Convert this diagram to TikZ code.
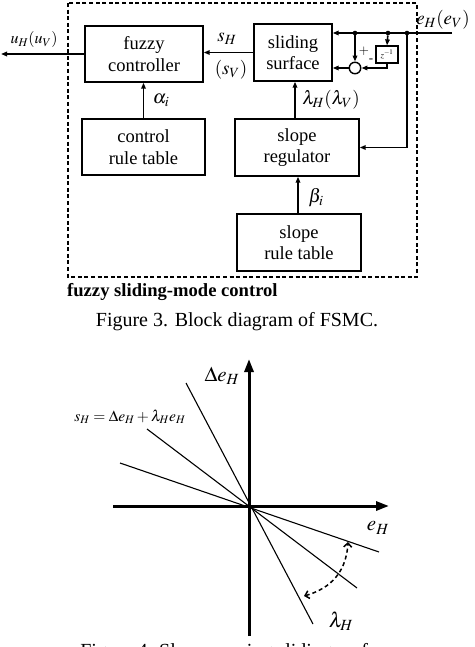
\documentclass[tikz,border=0pt]{standalone}
\usepackage{mathptmx}
\usepackage{fontspec}
\setmainfont{Liberation Serif}
\usetikzlibrary{arrows.meta, calc, positioning}
\tikzset{
  >={Triangle[length=6pt, width=4.5pt]},
  blockbox/.style={draw, line width=1.4pt, align=center, inner sep=0pt,
                   font=\fontsize{18.5}{21.5}\selectfont},
  sig/.style={->, line width=1.6pt},
  junction/.style={circle, fill, inner sep=0pt, minimum size=4.6pt},
  framebox/.style={line width=1.5pt, dash pattern=on 4pt off 2.6pt},
  axisline/.style={-{Triangle[length=13pt, width=9pt]}, line width=3pt},
  slopeline/.style={line width=1.1pt},
  sweep/.style={{Straight Barb[length=4pt, width=8pt]}-{Straight Barb[length=4pt, width=8pt]},
                line width=1.5pt, dash pattern=on 4pt off 3pt},
  lbl/.style={inner sep=0pt, font=\fontsize{19}{21}\selectfont},
}

\begin{document}
\begin{tikzpicture}[x=1pt, y=-1pt]
  \useasboundingbox (0,0) rectangle (474,647);

  % ---- Figure 3: block diagram ----
  \draw[framebox] (68,3) rectangle (417,277);

  \node[blockbox, minimum width=118pt, minimum height=56pt]
    (fc) at (144,54) {fuzzy\\controller};
  \node[blockbox, minimum width=78pt, minimum height=57pt]
    (ss) at (293,52.5) {sliding\\surface};
  \node[blockbox, minimum width=123pt, minimum height=56pt]
    (crt) at (143.5,147) {control\\rule table};
  \node[blockbox, minimum width=124pt, minimum height=57pt]
    (sr) at (297,147.5) {slope\\regulator};
  \node[blockbox, minimum width=124pt, minimum height=57pt]
    (srt) at (299,242.5) {slope\\rule table};

  % output and inner signals
  \coordinate (uout) at (1,54);
  \draw[sig] (fc.west) -- (uout);
  \node[lbl, font=\fontsize{16}{18}\selectfont] (ulbl) at (34,40) {$u_H(u_V)$};

  \draw[sig] (ss.west) -- (ss.west -| fc.east);
  \node[lbl] (shlbl) at (227,39) {$s_H$};
  \node[lbl] (svlbl) at (231,70) {$(s_V)$};

  \draw[sig] (crt.north) -- (crt.north |- fc.south);
  \node[lbl] (albl) at (161,100) {$\alpha_i$};

  \draw[sig] ($(sr.north)+(-2,0)$) -- ($(sr.north |- ss.south)+(-2,0)$);
  \node[lbl] (llbl) at (331,100) {$\lambda_H(\lambda_V)$};

  \draw[sig] ($(srt.north)+(-1,0)$) -- ($(srt.north |- sr.south)+(-1,0)$);
  \node[lbl] (blbl) at (316,198) {$\beta_i$};

  % ---- input e_H and difference ----
  \coordinate (ein) at (452,33);
  \node[junction] (d1) at (355,33) {};
  \node[junction] (d2) at (388,33) {};
  \node[junction] (d3) at (407,33) {};
  \node[lbl] (elbl) at (443,20) {$e_H(e_V)$};

  \draw[sig] (ein) -- (ein -| ss.east);
  \node[draw, circle, line width=1.4pt, minimum size=11.5pt, inner sep=0pt]
    (sum) at (355,68) {};
  \node[draw, line width=1.2pt, minimum width=22pt, minimum height=17pt,
        inner sep=0pt, font=\fontsize{9}{10}\selectfont]
    (zd) at (387,54.5) {$z^{-1}$};

  \draw[sig] (d1) -- (sum.north);
  \draw[sig] (d2) -- (zd.north);
  \draw[sig] (zd.south) |- (sum.east);
  \draw[sig] (sum.west) -- (sum.west -| ss.east);
  \draw[sig] (d3) |- (sr.east);
  \node[lbl, font=\fontsize{13}{14}\selectfont] (plbl) at (364,51) {$+$};
  \node[lbl, font=\fontsize{13}{14}\selectfont] (mlbl) at (371,61) {-};

  \node[anchor=west, inner sep=0pt, font=\fontsize{18.6}{20}\selectfont\bfseries]
    (fsmc) at (67,292) {fuzzy sliding-mode control};
  \node[inner sep=0pt, font=\fontsize{20}{22}\selectfont]
    (cap3) at (237,322) {Figure 3. Block diagram of FSMC.};

  % ---- Figure 4: slope-varying sliding surface ----
  \coordinate (O) at (249,506);
  \coordinate (xl) at (113,506);
  \coordinate (xr) at (389,506);
  \coordinate (yb) at (249,636);
  \coordinate (yt) at (249,359);
  \draw[axisline] (xl) -- (xr);
  \draw[axisline] (yb) -- (yt);
  \node[lbl, font=\fontsize{21}{23}\selectfont] (dlbl) at (222,376) {$\Delta e_H$};
  \node[lbl, font=\fontsize{21}{23}\selectfont] (ehlbl) at (378,528) {$e_H$};

  \draw[slopeline] ($(O)+(-63,-123)$) -- ($(O)+(64,118)$);
  \draw[slopeline] ($(O)+(-102,-77)$) -- ($(O)+(108,82)$);
  \draw[slopeline] ($(O)+(-129,-43)$) -- ($(O)+(130,46)$);

  \coordinate (sw1) at (304,596);
  \coordinate (sw2) at (348,542);
  \draw[sweep] (sw1) .. controls (325,590) and (346,577) .. (sw2);

  \node[lbl, font=\fontsize{15.5}{17}\selectfont] (sheq) at (130,417)
    {$s_H=\Delta e_H+\lambda_H e_H$};
  \node[lbl, font=\fontsize{21}{23}\selectfont] (lhlbl) at (341,621) {$\lambda_H$};

  \begin{scope}
    \clip (0,0) rectangle (474,647);
    \node[anchor=base, inner sep=0pt, font=\fontsize{20}{22}\selectfont]
      (cap4) at (240,657) {Figure 4. Slope-varying sliding surface.};
  \end{scope}
\end{tikzpicture}
\end{document}
